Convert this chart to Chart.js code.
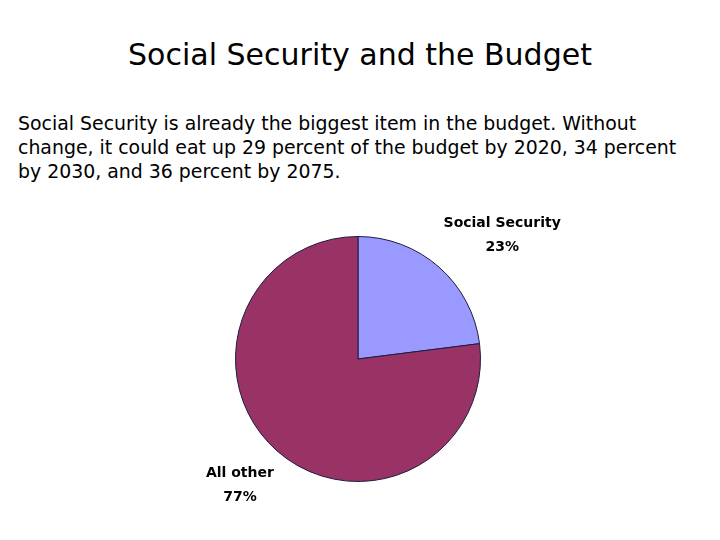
<!DOCTYPE html>
<html>
<head>
<meta charset="utf-8">
<script src="https://cdn.jsdelivr.net/npm/chart.js@4.4.0/dist/chart.umd.min.js"></script>
<style>
  body { margin: 0; background: #fff; font-family: "DejaVu Sans", sans-serif; }
  #wrap { position: relative; width: 720px; height: 540px; overflow: hidden; }
  #title { position: absolute; top: 37px; left: 0; width: 720px; text-align: center; font-size: 30px; color: #000; }
  #text { position: absolute; top: 111px; left: 18px; width: 700px; font-size: 18.9px; line-height: 24px; color: #000; white-space: nowrap; }
  canvas { position: absolute; left: 0; top: 0; }
</style>
</head>
<body>
<div id="wrap">
  <div id="title">Social Security and the Budget</div>
  <div id="text">Social Security is already the biggest item in the budget. Without<br>change, it could eat up 29 percent of the budget by 2020, 34 percent<br>by 2030, and 36 percent by 2075.</div>
  <canvas id="pie" width="720" height="540"></canvas>
</div>
<script>
const labels = ['Social Security', 'All other'];
const shares = [23, 77];
const colors = ['#9999FF', '#993366'];

// draws "name / pct%" outside each slice
const outsideLabels = {
    id: 'outsideLabels',
    afterDraw(chart, args, opts) {
        const ctx = chart.ctx;
        const meta = chart.getDatasetMeta(0);
        ctx.save();
        ctx.fillStyle = '#000';
        ctx.font = 'bold 14px "DejaVu Sans", sans-serif';
        ctx.textAlign = 'center';
        ctx.textBaseline = 'middle';
        meta.data.forEach((arc, i) => {
            const p = arc.getProps(['x', 'y', 'startAngle', 'endAngle', 'outerRadius'], true);
            const mid = (p.startAngle + p.endAngle) / 2;
            const r = p.outerRadius * opts.dist[i];
            const x = p.x + Math.cos(mid + opts.turn[i]) * r;
            const y = p.y + Math.sin(mid + opts.turn[i]) * r;
            ctx.fillText(chart.data.labels[i], x, y - 12);
            ctx.fillText(chart.data.datasets[0].data[i] + '%', x, y + 12);
        });
        ctx.restore();
    }
};

new Chart(document.getElementById('pie'), {
    type: 'pie',
    data: {
        labels: labels,
        datasets: [{
            data: shares,
            backgroundColor: colors,
            borderColor: '#1c1c40',
            borderWidth: 1
        }]
    },
    options: {
        responsive: false,
        animation: false,
        layout: { padding: { left: 235, right: 239, top: 236, bottom: 58 } },
        plugins: {
            legend: { display: false },
            tooltip: { enabled: false },
            outsideLabels: { dist: [1.55, 1.41], turn: [0.14, 0.03] }
        }
    },
    plugins: [outsideLabels]
});
</script>
</body>
</html>
